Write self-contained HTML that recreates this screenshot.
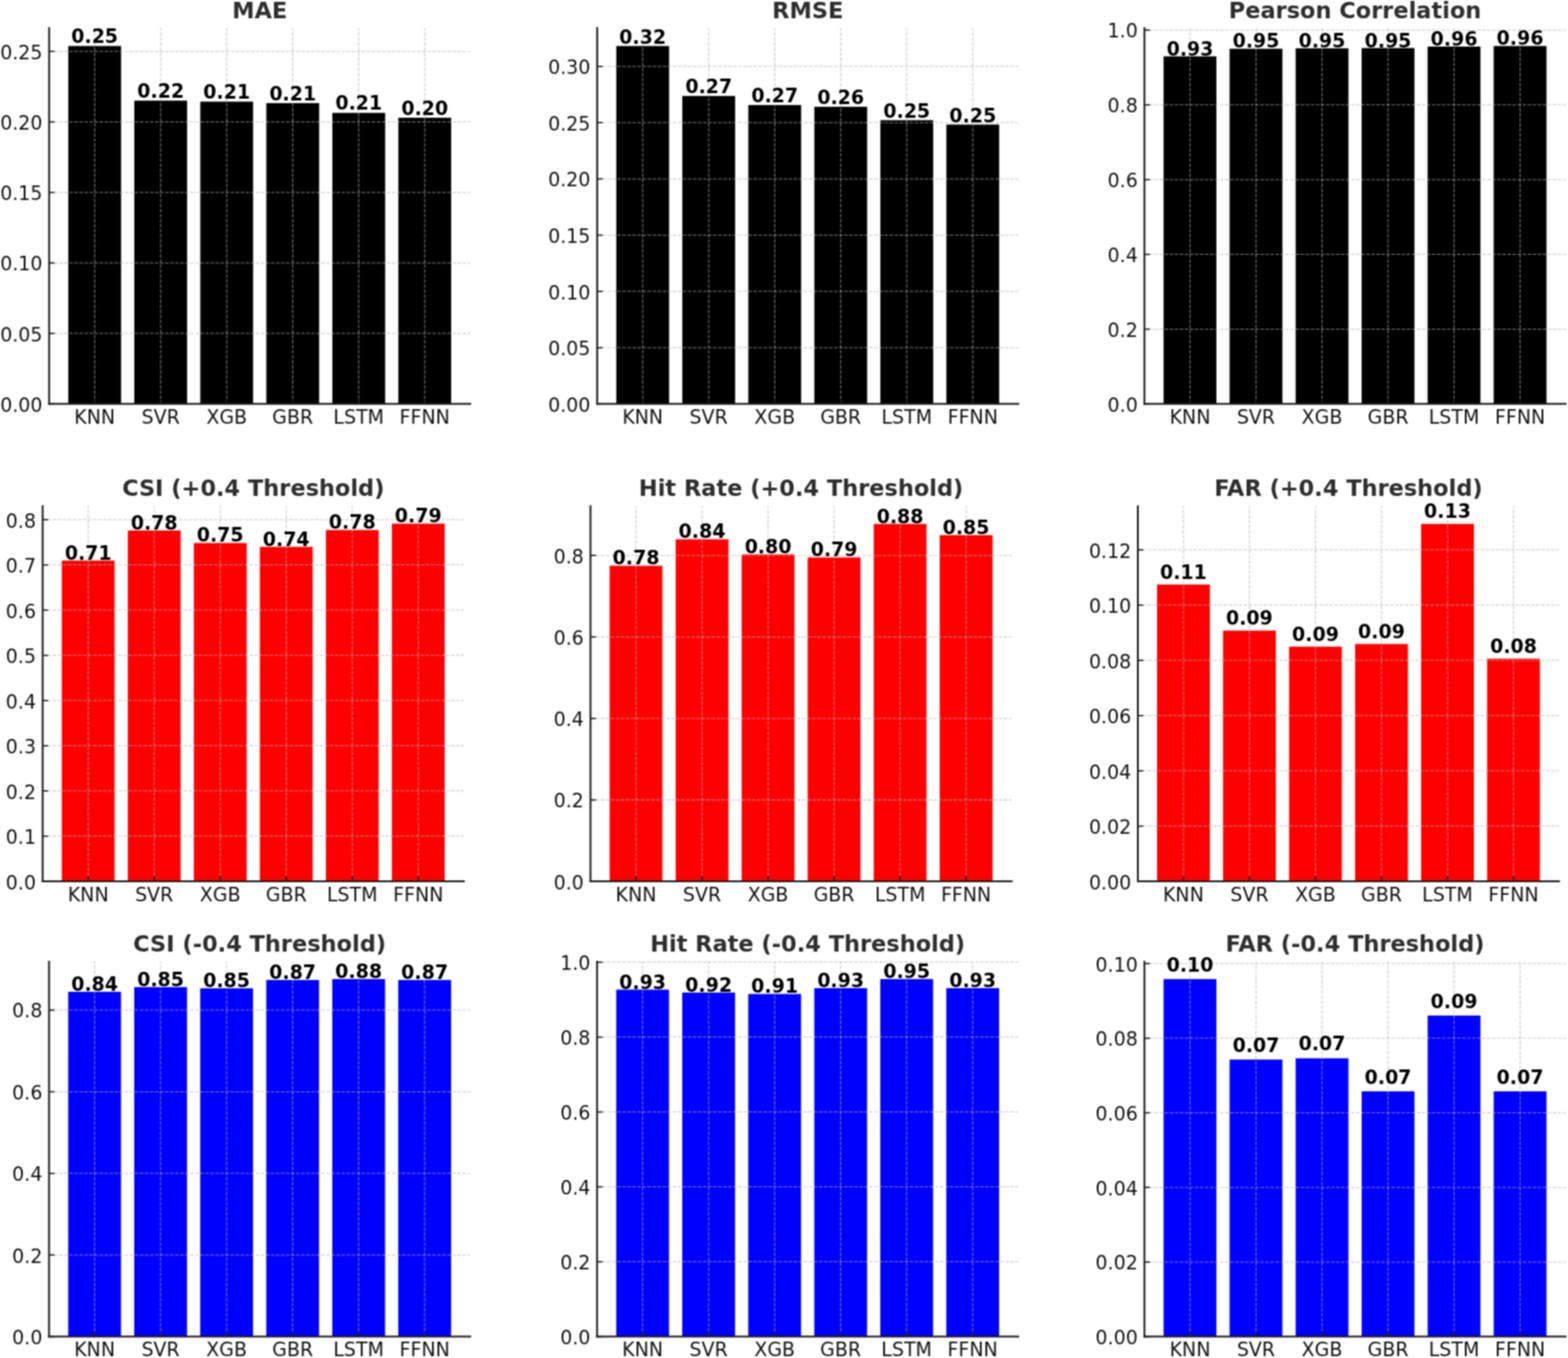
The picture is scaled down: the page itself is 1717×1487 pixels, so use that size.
<!DOCTYPE html>
<html><head><meta charset="utf-8"><title>Model metrics</title><style>
html,body{margin:0;padding:0;background:#fff;}
svg{display:block;}
text{font-family:"DejaVu Sans","Liberation Sans",sans-serif;}
.gr{stroke:#b0b0b0;stroke-width:1.04;stroke-dasharray:3.85 1.67;stroke-opacity:0.7;fill:none;}
.tk{stroke:#1c1c1c;stroke-width:1.5;}
.sp{stroke:#1c1c1c;stroke-width:2.0;stroke-linecap:square;}
.yl{font-size:20.8px;fill:#111111;text-anchor:end;}
.xl{font-size:20.8px;fill:#111111;text-anchor:middle;}
.vl{font-size:20.8px;font-weight:bold;fill:#000;text-anchor:middle;}
.ti{font-size:24.6px;font-weight:bold;fill:#2e2e2e;text-anchor:middle;}
</style></head>
<body><svg width="1717" height="1487" viewBox="0 0 1717 1487">
<defs><filter id="bl" x="0" y="0" width="1717" height="1487" filterUnits="userSpaceOnUse" color-interpolation-filters="sRGB"><feConvolveMatrix order="3" kernelMatrix="1 2 1 2 4 2 1 2 1" divisor="16" edgeMode="duplicate" preserveAlpha="true"/></filter></defs>
<g filter="url(#bl)">
<rect width="1717" height="1487" fill="#fff"/>
<rect x="74.76" y="50.4" width="57.83" height="391.9" fill="#000000"/>
<rect x="147.05" y="110.2" width="57.83" height="332.1" fill="#000000"/>
<rect x="219.34" y="111.3" width="57.83" height="331" fill="#000000"/>
<rect x="291.63" y="112.9" width="57.83" height="329.4" fill="#000000"/>
<rect x="363.92" y="123.6" width="57.83" height="318.7" fill="#000000"/>
<rect x="436.21" y="128.9" width="57.83" height="313.4" fill="#000000"/>
<line x1="53.8" y1="365.1" x2="515" y2="365.1" class="gr"/>
<line x1="53.8" y1="287.9" x2="515" y2="287.9" class="gr"/>
<line x1="53.8" y1="210.7" x2="515" y2="210.7" class="gr"/>
<line x1="53.8" y1="133.5" x2="515" y2="133.5" class="gr"/>
<line x1="53.8" y1="56.3" x2="515" y2="56.3" class="gr"/>
<line x1="103.68" y1="442.3" x2="103.68" y2="30.7" class="gr"/>
<line x1="175.97" y1="442.3" x2="175.97" y2="30.7" class="gr"/>
<line x1="248.26" y1="442.3" x2="248.26" y2="30.7" class="gr"/>
<line x1="320.54" y1="442.3" x2="320.54" y2="30.7" class="gr"/>
<line x1="392.83" y1="442.3" x2="392.83" y2="30.7" class="gr"/>
<line x1="465.12" y1="442.3" x2="465.12" y2="30.7" class="gr"/>
<line x1="53.8" y1="442.3" x2="59.8" y2="442.3" class="tk"/>
<line x1="53.8" y1="365.1" x2="59.8" y2="365.1" class="tk"/>
<line x1="53.8" y1="287.9" x2="59.8" y2="287.9" class="tk"/>
<line x1="53.8" y1="210.7" x2="59.8" y2="210.7" class="tk"/>
<line x1="53.8" y1="133.5" x2="59.8" y2="133.5" class="tk"/>
<line x1="53.8" y1="56.3" x2="59.8" y2="56.3" class="tk"/>
<line x1="103.68" y1="442.3" x2="103.68" y2="436.3" class="tk"/>
<line x1="175.97" y1="442.3" x2="175.97" y2="436.3" class="tk"/>
<line x1="248.26" y1="442.3" x2="248.26" y2="436.3" class="tk"/>
<line x1="320.54" y1="442.3" x2="320.54" y2="436.3" class="tk"/>
<line x1="392.83" y1="442.3" x2="392.83" y2="436.3" class="tk"/>
<line x1="465.12" y1="442.3" x2="465.12" y2="436.3" class="tk"/>
<line x1="53.8" y1="30.7" x2="53.8" y2="442.3" class="sp"/>
<line x1="53.8" y1="442.3" x2="515" y2="442.3" class="sp"/>
<text x="46.5" y="450.7" class="yl">0.00</text>
<text x="46.5" y="373.5" class="yl">0.05</text>
<text x="46.5" y="296.3" class="yl">0.10</text>
<text x="46.5" y="219.1" class="yl">0.15</text>
<text x="46.5" y="141.9" class="yl">0.20</text>
<text x="46.5" y="64.7" class="yl">0.25</text>
<text x="103.68" y="463.8" class="xl">KNN</text>
<text x="175.97" y="463.8" class="xl">SVR</text>
<text x="248.26" y="463.8" class="xl">XGB</text>
<text x="320.54" y="463.8" class="xl">GBR</text>
<text x="392.83" y="463.8" class="xl">LSTM</text>
<text x="465.12" y="463.8" class="xl">FFNN</text>
<text x="103.68" y="47.11" class="vl">0.25</text>
<text x="175.97" y="106.91" class="vl">0.22</text>
<text x="248.26" y="108.01" class="vl">0.21</text>
<text x="320.54" y="109.61" class="vl">0.21</text>
<text x="392.83" y="120.31" class="vl">0.21</text>
<text x="465.12" y="125.61" class="vl">0.20</text>
<text x="284.4" y="19.5" class="ti">MAE</text>
<rect x="674.86" y="50.4" width="57.83" height="391.9" fill="#000000"/>
<rect x="747.15" y="105.1" width="57.83" height="337.2" fill="#000000"/>
<rect x="819.44" y="115" width="57.83" height="327.3" fill="#000000"/>
<rect x="891.73" y="116.9" width="57.83" height="325.4" fill="#000000"/>
<rect x="964.02" y="131.6" width="57.83" height="310.7" fill="#000000"/>
<rect x="1036.31" y="136.4" width="57.83" height="305.9" fill="#000000"/>
<line x1="653.9" y1="380.7" x2="1115.1" y2="380.7" class="gr"/>
<line x1="653.9" y1="319.1" x2="1115.1" y2="319.1" class="gr"/>
<line x1="653.9" y1="257.5" x2="1115.1" y2="257.5" class="gr"/>
<line x1="653.9" y1="195.9" x2="1115.1" y2="195.9" class="gr"/>
<line x1="653.9" y1="134.3" x2="1115.1" y2="134.3" class="gr"/>
<line x1="653.9" y1="72.7" x2="1115.1" y2="72.7" class="gr"/>
<line x1="703.78" y1="442.3" x2="703.78" y2="30.7" class="gr"/>
<line x1="776.07" y1="442.3" x2="776.07" y2="30.7" class="gr"/>
<line x1="848.36" y1="442.3" x2="848.36" y2="30.7" class="gr"/>
<line x1="920.64" y1="442.3" x2="920.64" y2="30.7" class="gr"/>
<line x1="992.93" y1="442.3" x2="992.93" y2="30.7" class="gr"/>
<line x1="1065.22" y1="442.3" x2="1065.22" y2="30.7" class="gr"/>
<line x1="653.9" y1="442.3" x2="659.9" y2="442.3" class="tk"/>
<line x1="653.9" y1="380.7" x2="659.9" y2="380.7" class="tk"/>
<line x1="653.9" y1="319.1" x2="659.9" y2="319.1" class="tk"/>
<line x1="653.9" y1="257.5" x2="659.9" y2="257.5" class="tk"/>
<line x1="653.9" y1="195.9" x2="659.9" y2="195.9" class="tk"/>
<line x1="653.9" y1="134.3" x2="659.9" y2="134.3" class="tk"/>
<line x1="653.9" y1="72.7" x2="659.9" y2="72.7" class="tk"/>
<line x1="703.78" y1="442.3" x2="703.78" y2="436.3" class="tk"/>
<line x1="776.07" y1="442.3" x2="776.07" y2="436.3" class="tk"/>
<line x1="848.36" y1="442.3" x2="848.36" y2="436.3" class="tk"/>
<line x1="920.64" y1="442.3" x2="920.64" y2="436.3" class="tk"/>
<line x1="992.93" y1="442.3" x2="992.93" y2="436.3" class="tk"/>
<line x1="1065.22" y1="442.3" x2="1065.22" y2="436.3" class="tk"/>
<line x1="653.9" y1="30.7" x2="653.9" y2="442.3" class="sp"/>
<line x1="653.9" y1="442.3" x2="1115.1" y2="442.3" class="sp"/>
<text x="646.6" y="450.7" class="yl">0.00</text>
<text x="646.6" y="389.1" class="yl">0.05</text>
<text x="646.6" y="327.5" class="yl">0.10</text>
<text x="646.6" y="265.9" class="yl">0.15</text>
<text x="646.6" y="204.3" class="yl">0.20</text>
<text x="646.6" y="142.7" class="yl">0.25</text>
<text x="646.6" y="81.1" class="yl">0.30</text>
<text x="703.78" y="463.8" class="xl">KNN</text>
<text x="776.07" y="463.8" class="xl">SVR</text>
<text x="848.36" y="463.8" class="xl">XGB</text>
<text x="920.64" y="463.8" class="xl">GBR</text>
<text x="992.93" y="463.8" class="xl">LSTM</text>
<text x="1065.22" y="463.8" class="xl">FFNN</text>
<text x="703.78" y="47.74" class="vl">0.32</text>
<text x="776.07" y="102.44" class="vl">0.27</text>
<text x="848.36" y="112.34" class="vl">0.27</text>
<text x="920.64" y="114.24" class="vl">0.26</text>
<text x="992.93" y="128.94" class="vl">0.25</text>
<text x="1065.22" y="133.74" class="vl">0.25</text>
<text x="884.5" y="19.5" class="ti">RMSE</text>
<rect x="1274.16" y="61.7" width="57.83" height="380.6" fill="#000000"/>
<rect x="1346.45" y="53.4" width="57.83" height="388.9" fill="#000000"/>
<rect x="1418.74" y="52.9" width="57.83" height="389.4" fill="#000000"/>
<rect x="1491.03" y="52.6" width="57.83" height="389.7" fill="#000000"/>
<rect x="1563.32" y="51" width="57.83" height="391.3" fill="#000000"/>
<rect x="1635.61" y="50.4" width="57.83" height="391.9" fill="#000000"/>
<line x1="1253.2" y1="360.42" x2="1714.4" y2="360.42" class="gr"/>
<line x1="1253.2" y1="278.54" x2="1714.4" y2="278.54" class="gr"/>
<line x1="1253.2" y1="196.66" x2="1714.4" y2="196.66" class="gr"/>
<line x1="1253.2" y1="114.78" x2="1714.4" y2="114.78" class="gr"/>
<line x1="1253.2" y1="32.9" x2="1714.4" y2="32.9" class="gr"/>
<line x1="1303.08" y1="442.3" x2="1303.08" y2="30.7" class="gr"/>
<line x1="1375.37" y1="442.3" x2="1375.37" y2="30.7" class="gr"/>
<line x1="1447.66" y1="442.3" x2="1447.66" y2="30.7" class="gr"/>
<line x1="1519.94" y1="442.3" x2="1519.94" y2="30.7" class="gr"/>
<line x1="1592.23" y1="442.3" x2="1592.23" y2="30.7" class="gr"/>
<line x1="1664.52" y1="442.3" x2="1664.52" y2="30.7" class="gr"/>
<line x1="1253.2" y1="442.3" x2="1259.2" y2="442.3" class="tk"/>
<line x1="1253.2" y1="360.42" x2="1259.2" y2="360.42" class="tk"/>
<line x1="1253.2" y1="278.54" x2="1259.2" y2="278.54" class="tk"/>
<line x1="1253.2" y1="196.66" x2="1259.2" y2="196.66" class="tk"/>
<line x1="1253.2" y1="114.78" x2="1259.2" y2="114.78" class="tk"/>
<line x1="1253.2" y1="32.9" x2="1259.2" y2="32.9" class="tk"/>
<line x1="1303.08" y1="442.3" x2="1303.08" y2="436.3" class="tk"/>
<line x1="1375.37" y1="442.3" x2="1375.37" y2="436.3" class="tk"/>
<line x1="1447.66" y1="442.3" x2="1447.66" y2="436.3" class="tk"/>
<line x1="1519.94" y1="442.3" x2="1519.94" y2="436.3" class="tk"/>
<line x1="1592.23" y1="442.3" x2="1592.23" y2="436.3" class="tk"/>
<line x1="1664.52" y1="442.3" x2="1664.52" y2="436.3" class="tk"/>
<line x1="1253.2" y1="30.7" x2="1253.2" y2="442.3" class="sp"/>
<line x1="1253.2" y1="442.3" x2="1714.4" y2="442.3" class="sp"/>
<text x="1245.9" y="450.7" class="yl">0.0</text>
<text x="1245.9" y="368.82" class="yl">0.2</text>
<text x="1245.9" y="286.94" class="yl">0.4</text>
<text x="1245.9" y="205.06" class="yl">0.6</text>
<text x="1245.9" y="123.18" class="yl">0.8</text>
<text x="1245.9" y="41.3" class="yl">1.0</text>
<text x="1303.08" y="463.8" class="xl">KNN</text>
<text x="1375.37" y="463.8" class="xl">SVR</text>
<text x="1447.66" y="463.8" class="xl">XGB</text>
<text x="1519.94" y="463.8" class="xl">GBR</text>
<text x="1592.23" y="463.8" class="xl">LSTM</text>
<text x="1664.52" y="463.8" class="xl">FFNN</text>
<text x="1303.08" y="60.68" class="vl">0.93</text>
<text x="1375.37" y="52.38" class="vl">0.95</text>
<text x="1447.66" y="51.88" class="vl">0.95</text>
<text x="1519.94" y="51.58" class="vl">0.95</text>
<text x="1592.23" y="49.98" class="vl">0.96</text>
<text x="1664.52" y="49.38" class="vl">0.96</text>
<text x="1483.8" y="19.5" class="ti">Pearson Correlation</text>
<rect x="67.66" y="613.8" width="57.83" height="351.3" fill="#ff0000"/>
<rect x="139.95" y="580.9" width="57.83" height="384.2" fill="#ff0000"/>
<rect x="212.24" y="594.6" width="57.83" height="370.5" fill="#ff0000"/>
<rect x="284.53" y="598.8" width="57.83" height="366.3" fill="#ff0000"/>
<rect x="356.82" y="580.4" width="57.83" height="384.7" fill="#ff0000"/>
<rect x="429.11" y="573.4" width="57.83" height="391.7" fill="#ff0000"/>
<line x1="46.7" y1="915.6" x2="507.9" y2="915.6" class="gr"/>
<line x1="46.7" y1="866.1" x2="507.9" y2="866.1" class="gr"/>
<line x1="46.7" y1="816.6" x2="507.9" y2="816.6" class="gr"/>
<line x1="46.7" y1="767.1" x2="507.9" y2="767.1" class="gr"/>
<line x1="46.7" y1="717.6" x2="507.9" y2="717.6" class="gr"/>
<line x1="46.7" y1="668.1" x2="507.9" y2="668.1" class="gr"/>
<line x1="46.7" y1="618.6" x2="507.9" y2="618.6" class="gr"/>
<line x1="46.7" y1="569.1" x2="507.9" y2="569.1" class="gr"/>
<line x1="96.58" y1="965.1" x2="96.58" y2="554.3" class="gr"/>
<line x1="168.87" y1="965.1" x2="168.87" y2="554.3" class="gr"/>
<line x1="241.16" y1="965.1" x2="241.16" y2="554.3" class="gr"/>
<line x1="313.44" y1="965.1" x2="313.44" y2="554.3" class="gr"/>
<line x1="385.73" y1="965.1" x2="385.73" y2="554.3" class="gr"/>
<line x1="458.02" y1="965.1" x2="458.02" y2="554.3" class="gr"/>
<line x1="46.7" y1="965.1" x2="52.7" y2="965.1" class="tk"/>
<line x1="46.7" y1="915.6" x2="52.7" y2="915.6" class="tk"/>
<line x1="46.7" y1="866.1" x2="52.7" y2="866.1" class="tk"/>
<line x1="46.7" y1="816.6" x2="52.7" y2="816.6" class="tk"/>
<line x1="46.7" y1="767.1" x2="52.7" y2="767.1" class="tk"/>
<line x1="46.7" y1="717.6" x2="52.7" y2="717.6" class="tk"/>
<line x1="46.7" y1="668.1" x2="52.7" y2="668.1" class="tk"/>
<line x1="46.7" y1="618.6" x2="52.7" y2="618.6" class="tk"/>
<line x1="46.7" y1="569.1" x2="52.7" y2="569.1" class="tk"/>
<line x1="96.58" y1="965.1" x2="96.58" y2="959.1" class="tk"/>
<line x1="168.87" y1="965.1" x2="168.87" y2="959.1" class="tk"/>
<line x1="241.16" y1="965.1" x2="241.16" y2="959.1" class="tk"/>
<line x1="313.44" y1="965.1" x2="313.44" y2="959.1" class="tk"/>
<line x1="385.73" y1="965.1" x2="385.73" y2="959.1" class="tk"/>
<line x1="458.02" y1="965.1" x2="458.02" y2="959.1" class="tk"/>
<line x1="46.7" y1="554.3" x2="46.7" y2="965.1" class="sp"/>
<line x1="46.7" y1="965.1" x2="507.9" y2="965.1" class="sp"/>
<text x="39.4" y="973.5" class="yl">0.0</text>
<text x="39.4" y="924" class="yl">0.1</text>
<text x="39.4" y="874.5" class="yl">0.2</text>
<text x="39.4" y="825" class="yl">0.3</text>
<text x="39.4" y="775.5" class="yl">0.4</text>
<text x="39.4" y="726" class="yl">0.5</text>
<text x="39.4" y="676.5" class="yl">0.6</text>
<text x="39.4" y="627" class="yl">0.7</text>
<text x="39.4" y="577.5" class="yl">0.8</text>
<text x="96.58" y="986.6" class="xl">KNN</text>
<text x="168.87" y="986.6" class="xl">SVR</text>
<text x="241.16" y="986.6" class="xl">XGB</text>
<text x="313.44" y="986.6" class="xl">GBR</text>
<text x="385.73" y="986.6" class="xl">LSTM</text>
<text x="458.02" y="986.6" class="xl">FFNN</text>
<text x="96.58" y="612.61" class="vl">0.71</text>
<text x="168.87" y="579.71" class="vl">0.78</text>
<text x="241.16" y="593.41" class="vl">0.75</text>
<text x="313.44" y="597.61" class="vl">0.74</text>
<text x="385.73" y="579.21" class="vl">0.78</text>
<text x="458.02" y="572.21" class="vl">0.79</text>
<text x="277.3" y="543.1" class="ti">CSI (+0.4 Threshold)</text>
<rect x="667.56" y="619.5" width="57.83" height="345.6" fill="#ff0000"/>
<rect x="739.85" y="590.5" width="57.83" height="374.6" fill="#ff0000"/>
<rect x="812.14" y="607.1" width="57.83" height="358" fill="#ff0000"/>
<rect x="884.43" y="610.4" width="57.83" height="354.7" fill="#ff0000"/>
<rect x="956.72" y="573.7" width="57.83" height="391.4" fill="#ff0000"/>
<rect x="1029.01" y="586" width="57.83" height="379.1" fill="#ff0000"/>
<line x1="646.6" y1="875.88" x2="1107.8" y2="875.88" class="gr"/>
<line x1="646.6" y1="786.66" x2="1107.8" y2="786.66" class="gr"/>
<line x1="646.6" y1="697.44" x2="1107.8" y2="697.44" class="gr"/>
<line x1="646.6" y1="608.22" x2="1107.8" y2="608.22" class="gr"/>
<line x1="696.48" y1="965.1" x2="696.48" y2="554.3" class="gr"/>
<line x1="768.77" y1="965.1" x2="768.77" y2="554.3" class="gr"/>
<line x1="841.06" y1="965.1" x2="841.06" y2="554.3" class="gr"/>
<line x1="913.34" y1="965.1" x2="913.34" y2="554.3" class="gr"/>
<line x1="985.63" y1="965.1" x2="985.63" y2="554.3" class="gr"/>
<line x1="1057.92" y1="965.1" x2="1057.92" y2="554.3" class="gr"/>
<line x1="646.6" y1="965.1" x2="652.6" y2="965.1" class="tk"/>
<line x1="646.6" y1="875.88" x2="652.6" y2="875.88" class="tk"/>
<line x1="646.6" y1="786.66" x2="652.6" y2="786.66" class="tk"/>
<line x1="646.6" y1="697.44" x2="652.6" y2="697.44" class="tk"/>
<line x1="646.6" y1="608.22" x2="652.6" y2="608.22" class="tk"/>
<line x1="696.48" y1="965.1" x2="696.48" y2="959.1" class="tk"/>
<line x1="768.77" y1="965.1" x2="768.77" y2="959.1" class="tk"/>
<line x1="841.06" y1="965.1" x2="841.06" y2="959.1" class="tk"/>
<line x1="913.34" y1="965.1" x2="913.34" y2="959.1" class="tk"/>
<line x1="985.63" y1="965.1" x2="985.63" y2="959.1" class="tk"/>
<line x1="1057.92" y1="965.1" x2="1057.92" y2="959.1" class="tk"/>
<line x1="646.6" y1="554.3" x2="646.6" y2="965.1" class="sp"/>
<line x1="646.6" y1="965.1" x2="1107.8" y2="965.1" class="sp"/>
<text x="639.3" y="973.5" class="yl">0.0</text>
<text x="639.3" y="884.28" class="yl">0.2</text>
<text x="639.3" y="795.06" class="yl">0.4</text>
<text x="639.3" y="705.84" class="yl">0.6</text>
<text x="639.3" y="616.62" class="yl">0.8</text>
<text x="696.48" y="986.6" class="xl">KNN</text>
<text x="768.77" y="986.6" class="xl">SVR</text>
<text x="841.06" y="986.6" class="xl">XGB</text>
<text x="913.34" y="986.6" class="xl">GBR</text>
<text x="985.63" y="986.6" class="xl">LSTM</text>
<text x="1057.92" y="986.6" class="xl">FFNN</text>
<text x="696.48" y="618.41" class="vl">0.78</text>
<text x="768.77" y="589.41" class="vl">0.84</text>
<text x="841.06" y="606.01" class="vl">0.80</text>
<text x="913.34" y="609.31" class="vl">0.79</text>
<text x="985.63" y="572.61" class="vl">0.88</text>
<text x="1057.92" y="584.91" class="vl">0.85</text>
<text x="877.2" y="543.1" class="ti">Hit Rate (+0.4 Threshold)</text>
<rect x="1266.96" y="640.1" width="57.83" height="325" fill="#ff0000"/>
<rect x="1339.25" y="690.5" width="57.83" height="274.6" fill="#ff0000"/>
<rect x="1411.54" y="708.1" width="57.83" height="257" fill="#ff0000"/>
<rect x="1483.83" y="705.2" width="57.83" height="259.9" fill="#ff0000"/>
<rect x="1556.12" y="573.7" width="57.83" height="391.4" fill="#ff0000"/>
<rect x="1628.41" y="721.3" width="57.83" height="243.8" fill="#ff0000"/>
<line x1="1246" y1="904.6" x2="1707.2" y2="904.6" class="gr"/>
<line x1="1246" y1="844.1" x2="1707.2" y2="844.1" class="gr"/>
<line x1="1246" y1="783.6" x2="1707.2" y2="783.6" class="gr"/>
<line x1="1246" y1="723.1" x2="1707.2" y2="723.1" class="gr"/>
<line x1="1246" y1="662.6" x2="1707.2" y2="662.6" class="gr"/>
<line x1="1246" y1="602.1" x2="1707.2" y2="602.1" class="gr"/>
<line x1="1295.88" y1="965.1" x2="1295.88" y2="554.3" class="gr"/>
<line x1="1368.17" y1="965.1" x2="1368.17" y2="554.3" class="gr"/>
<line x1="1440.46" y1="965.1" x2="1440.46" y2="554.3" class="gr"/>
<line x1="1512.74" y1="965.1" x2="1512.74" y2="554.3" class="gr"/>
<line x1="1585.03" y1="965.1" x2="1585.03" y2="554.3" class="gr"/>
<line x1="1657.32" y1="965.1" x2="1657.32" y2="554.3" class="gr"/>
<line x1="1246" y1="965.1" x2="1252" y2="965.1" class="tk"/>
<line x1="1246" y1="904.6" x2="1252" y2="904.6" class="tk"/>
<line x1="1246" y1="844.1" x2="1252" y2="844.1" class="tk"/>
<line x1="1246" y1="783.6" x2="1252" y2="783.6" class="tk"/>
<line x1="1246" y1="723.1" x2="1252" y2="723.1" class="tk"/>
<line x1="1246" y1="662.6" x2="1252" y2="662.6" class="tk"/>
<line x1="1246" y1="602.1" x2="1252" y2="602.1" class="tk"/>
<line x1="1295.88" y1="965.1" x2="1295.88" y2="959.1" class="tk"/>
<line x1="1368.17" y1="965.1" x2="1368.17" y2="959.1" class="tk"/>
<line x1="1440.46" y1="965.1" x2="1440.46" y2="959.1" class="tk"/>
<line x1="1512.74" y1="965.1" x2="1512.74" y2="959.1" class="tk"/>
<line x1="1585.03" y1="965.1" x2="1585.03" y2="959.1" class="tk"/>
<line x1="1657.32" y1="965.1" x2="1657.32" y2="959.1" class="tk"/>
<line x1="1246" y1="554.3" x2="1246" y2="965.1" class="sp"/>
<line x1="1246" y1="965.1" x2="1707.2" y2="965.1" class="sp"/>
<text x="1238.7" y="973.5" class="yl">0.00</text>
<text x="1238.7" y="913" class="yl">0.02</text>
<text x="1238.7" y="852.5" class="yl">0.04</text>
<text x="1238.7" y="792" class="yl">0.06</text>
<text x="1238.7" y="731.5" class="yl">0.08</text>
<text x="1238.7" y="671" class="yl">0.10</text>
<text x="1238.7" y="610.5" class="yl">0.12</text>
<text x="1295.88" y="986.6" class="xl">KNN</text>
<text x="1368.17" y="986.6" class="xl">SVR</text>
<text x="1440.46" y="986.6" class="xl">XGB</text>
<text x="1512.74" y="986.6" class="xl">GBR</text>
<text x="1585.03" y="986.6" class="xl">LSTM</text>
<text x="1657.32" y="986.6" class="xl">FFNN</text>
<text x="1295.88" y="633.85" class="vl">0.11</text>
<text x="1368.17" y="684.25" class="vl">0.09</text>
<text x="1440.46" y="701.85" class="vl">0.09</text>
<text x="1512.74" y="698.95" class="vl">0.09</text>
<text x="1585.03" y="567.45" class="vl">0.13</text>
<text x="1657.32" y="715.05" class="vl">0.08</text>
<text x="1476.6" y="543.1" class="ti">FAR (+0.4 Threshold)</text>
<rect x="74.66" y="1086" width="57.83" height="377.6" fill="#0000ff"/>
<rect x="146.95" y="1080.9" width="57.83" height="382.7" fill="#0000ff"/>
<rect x="219.24" y="1082.2" width="57.83" height="381.4" fill="#0000ff"/>
<rect x="291.53" y="1073.1" width="57.83" height="390.5" fill="#0000ff"/>
<rect x="363.82" y="1072.1" width="57.83" height="391.5" fill="#0000ff"/>
<rect x="436.11" y="1073.1" width="57.83" height="390.5" fill="#0000ff"/>
<line x1="53.7" y1="1374.22" x2="514.9" y2="1374.22" class="gr"/>
<line x1="53.7" y1="1284.84" x2="514.9" y2="1284.84" class="gr"/>
<line x1="53.7" y1="1195.46" x2="514.9" y2="1195.46" class="gr"/>
<line x1="53.7" y1="1106.08" x2="514.9" y2="1106.08" class="gr"/>
<line x1="103.58" y1="1463.6" x2="103.58" y2="1053" class="gr"/>
<line x1="175.87" y1="1463.6" x2="175.87" y2="1053" class="gr"/>
<line x1="248.16" y1="1463.6" x2="248.16" y2="1053" class="gr"/>
<line x1="320.44" y1="1463.6" x2="320.44" y2="1053" class="gr"/>
<line x1="392.73" y1="1463.6" x2="392.73" y2="1053" class="gr"/>
<line x1="465.02" y1="1463.6" x2="465.02" y2="1053" class="gr"/>
<line x1="53.7" y1="1463.6" x2="59.7" y2="1463.6" class="tk"/>
<line x1="53.7" y1="1374.22" x2="59.7" y2="1374.22" class="tk"/>
<line x1="53.7" y1="1284.84" x2="59.7" y2="1284.84" class="tk"/>
<line x1="53.7" y1="1195.46" x2="59.7" y2="1195.46" class="tk"/>
<line x1="53.7" y1="1106.08" x2="59.7" y2="1106.08" class="tk"/>
<line x1="103.58" y1="1463.6" x2="103.58" y2="1457.6" class="tk"/>
<line x1="175.87" y1="1463.6" x2="175.87" y2="1457.6" class="tk"/>
<line x1="248.16" y1="1463.6" x2="248.16" y2="1457.6" class="tk"/>
<line x1="320.44" y1="1463.6" x2="320.44" y2="1457.6" class="tk"/>
<line x1="392.73" y1="1463.6" x2="392.73" y2="1457.6" class="tk"/>
<line x1="465.02" y1="1463.6" x2="465.02" y2="1457.6" class="tk"/>
<line x1="53.7" y1="1053" x2="53.7" y2="1463.6" class="sp"/>
<line x1="53.7" y1="1463.6" x2="514.9" y2="1463.6" class="sp"/>
<text x="46.4" y="1472" class="yl">0.0</text>
<text x="46.4" y="1382.62" class="yl">0.2</text>
<text x="46.4" y="1293.24" class="yl">0.4</text>
<text x="46.4" y="1203.86" class="yl">0.6</text>
<text x="46.4" y="1114.48" class="yl">0.8</text>
<text x="103.58" y="1485.1" class="xl">KNN</text>
<text x="175.87" y="1485.1" class="xl">SVR</text>
<text x="248.16" y="1485.1" class="xl">XGB</text>
<text x="320.44" y="1485.1" class="xl">GBR</text>
<text x="392.73" y="1485.1" class="xl">LSTM</text>
<text x="465.02" y="1485.1" class="xl">FFNN</text>
<text x="103.58" y="1084.91" class="vl">0.84</text>
<text x="175.87" y="1079.81" class="vl">0.85</text>
<text x="248.16" y="1081.11" class="vl">0.85</text>
<text x="320.44" y="1072.01" class="vl">0.87</text>
<text x="392.73" y="1071.01" class="vl">0.88</text>
<text x="465.02" y="1072.01" class="vl">0.87</text>
<text x="284.3" y="1041.8" class="ti">CSI (-0.4 Threshold)</text>
<rect x="674.76" y="1083.6" width="57.83" height="380" fill="#0000ff"/>
<rect x="747.05" y="1086.8" width="57.83" height="376.8" fill="#0000ff"/>
<rect x="819.34" y="1088.4" width="57.83" height="375.2" fill="#0000ff"/>
<rect x="891.63" y="1082" width="57.83" height="381.6" fill="#0000ff"/>
<rect x="963.92" y="1072.1" width="57.83" height="391.5" fill="#0000ff"/>
<rect x="1036.21" y="1082" width="57.83" height="381.6" fill="#0000ff"/>
<line x1="653.8" y1="1381.6" x2="1115" y2="1381.6" class="gr"/>
<line x1="653.8" y1="1299.6" x2="1115" y2="1299.6" class="gr"/>
<line x1="653.8" y1="1217.6" x2="1115" y2="1217.6" class="gr"/>
<line x1="653.8" y1="1135.6" x2="1115" y2="1135.6" class="gr"/>
<line x1="653.8" y1="1053.6" x2="1115" y2="1053.6" class="gr"/>
<line x1="703.68" y1="1463.6" x2="703.68" y2="1053" class="gr"/>
<line x1="775.97" y1="1463.6" x2="775.97" y2="1053" class="gr"/>
<line x1="848.26" y1="1463.6" x2="848.26" y2="1053" class="gr"/>
<line x1="920.54" y1="1463.6" x2="920.54" y2="1053" class="gr"/>
<line x1="992.83" y1="1463.6" x2="992.83" y2="1053" class="gr"/>
<line x1="1065.12" y1="1463.6" x2="1065.12" y2="1053" class="gr"/>
<line x1="653.8" y1="1463.6" x2="659.8" y2="1463.6" class="tk"/>
<line x1="653.8" y1="1381.6" x2="659.8" y2="1381.6" class="tk"/>
<line x1="653.8" y1="1299.6" x2="659.8" y2="1299.6" class="tk"/>
<line x1="653.8" y1="1217.6" x2="659.8" y2="1217.6" class="tk"/>
<line x1="653.8" y1="1135.6" x2="659.8" y2="1135.6" class="tk"/>
<line x1="653.8" y1="1053.6" x2="659.8" y2="1053.6" class="tk"/>
<line x1="703.68" y1="1463.6" x2="703.68" y2="1457.6" class="tk"/>
<line x1="775.97" y1="1463.6" x2="775.97" y2="1457.6" class="tk"/>
<line x1="848.26" y1="1463.6" x2="848.26" y2="1457.6" class="tk"/>
<line x1="920.54" y1="1463.6" x2="920.54" y2="1457.6" class="tk"/>
<line x1="992.83" y1="1463.6" x2="992.83" y2="1457.6" class="tk"/>
<line x1="1065.12" y1="1463.6" x2="1065.12" y2="1457.6" class="tk"/>
<line x1="653.8" y1="1053" x2="653.8" y2="1463.6" class="sp"/>
<line x1="653.8" y1="1463.6" x2="1115" y2="1463.6" class="sp"/>
<text x="646.5" y="1472" class="yl">0.0</text>
<text x="646.5" y="1390" class="yl">0.2</text>
<text x="646.5" y="1308" class="yl">0.4</text>
<text x="646.5" y="1226" class="yl">0.6</text>
<text x="646.5" y="1144" class="yl">0.8</text>
<text x="646.5" y="1062" class="yl">1.0</text>
<text x="703.68" y="1485.1" class="xl">KNN</text>
<text x="775.97" y="1485.1" class="xl">SVR</text>
<text x="848.26" y="1485.1" class="xl">XGB</text>
<text x="920.54" y="1485.1" class="xl">GBR</text>
<text x="992.83" y="1485.1" class="xl">LSTM</text>
<text x="1065.12" y="1485.1" class="xl">FFNN</text>
<text x="703.68" y="1082.58" class="vl">0.93</text>
<text x="775.97" y="1085.78" class="vl">0.92</text>
<text x="848.26" y="1087.38" class="vl">0.91</text>
<text x="920.54" y="1080.98" class="vl">0.93</text>
<text x="992.83" y="1071.08" class="vl">0.95</text>
<text x="1065.12" y="1080.98" class="vl">0.93</text>
<text x="884.4" y="1041.8" class="ti">Hit Rate (-0.4 Threshold)</text>
<rect x="1274.16" y="1072.1" width="57.83" height="391.5" fill="#0000ff"/>
<rect x="1346.45" y="1160.2" width="57.83" height="303.4" fill="#0000ff"/>
<rect x="1418.74" y="1158.8" width="57.83" height="304.8" fill="#0000ff"/>
<rect x="1491.03" y="1195" width="57.83" height="268.6" fill="#0000ff"/>
<rect x="1563.32" y="1112" width="57.83" height="351.6" fill="#0000ff"/>
<rect x="1635.61" y="1195" width="57.83" height="268.6" fill="#0000ff"/>
<line x1="1253.2" y1="1381.9" x2="1714.4" y2="1381.9" class="gr"/>
<line x1="1253.2" y1="1300.2" x2="1714.4" y2="1300.2" class="gr"/>
<line x1="1253.2" y1="1218.5" x2="1714.4" y2="1218.5" class="gr"/>
<line x1="1253.2" y1="1136.8" x2="1714.4" y2="1136.8" class="gr"/>
<line x1="1253.2" y1="1055.1" x2="1714.4" y2="1055.1" class="gr"/>
<line x1="1303.08" y1="1463.6" x2="1303.08" y2="1053" class="gr"/>
<line x1="1375.37" y1="1463.6" x2="1375.37" y2="1053" class="gr"/>
<line x1="1447.66" y1="1463.6" x2="1447.66" y2="1053" class="gr"/>
<line x1="1519.94" y1="1463.6" x2="1519.94" y2="1053" class="gr"/>
<line x1="1592.23" y1="1463.6" x2="1592.23" y2="1053" class="gr"/>
<line x1="1664.52" y1="1463.6" x2="1664.52" y2="1053" class="gr"/>
<line x1="1253.2" y1="1463.6" x2="1259.2" y2="1463.6" class="tk"/>
<line x1="1253.2" y1="1381.9" x2="1259.2" y2="1381.9" class="tk"/>
<line x1="1253.2" y1="1300.2" x2="1259.2" y2="1300.2" class="tk"/>
<line x1="1253.2" y1="1218.5" x2="1259.2" y2="1218.5" class="tk"/>
<line x1="1253.2" y1="1136.8" x2="1259.2" y2="1136.8" class="tk"/>
<line x1="1253.2" y1="1055.1" x2="1259.2" y2="1055.1" class="tk"/>
<line x1="1303.08" y1="1463.6" x2="1303.08" y2="1457.6" class="tk"/>
<line x1="1375.37" y1="1463.6" x2="1375.37" y2="1457.6" class="tk"/>
<line x1="1447.66" y1="1463.6" x2="1447.66" y2="1457.6" class="tk"/>
<line x1="1519.94" y1="1463.6" x2="1519.94" y2="1457.6" class="tk"/>
<line x1="1592.23" y1="1463.6" x2="1592.23" y2="1457.6" class="tk"/>
<line x1="1664.52" y1="1463.6" x2="1664.52" y2="1457.6" class="tk"/>
<line x1="1253.2" y1="1053" x2="1253.2" y2="1463.6" class="sp"/>
<line x1="1253.2" y1="1463.6" x2="1714.4" y2="1463.6" class="sp"/>
<text x="1245.9" y="1472" class="yl">0.00</text>
<text x="1245.9" y="1390.3" class="yl">0.02</text>
<text x="1245.9" y="1308.6" class="yl">0.04</text>
<text x="1245.9" y="1226.9" class="yl">0.06</text>
<text x="1245.9" y="1145.2" class="yl">0.08</text>
<text x="1245.9" y="1063.5" class="yl">0.10</text>
<text x="1303.08" y="1485.1" class="xl">KNN</text>
<text x="1375.37" y="1485.1" class="xl">SVR</text>
<text x="1447.66" y="1485.1" class="xl">XGB</text>
<text x="1519.94" y="1485.1" class="xl">GBR</text>
<text x="1592.23" y="1485.1" class="xl">LSTM</text>
<text x="1664.52" y="1485.1" class="xl">FFNN</text>
<text x="1303.08" y="1063.73" class="vl">0.10</text>
<text x="1375.37" y="1151.83" class="vl">0.07</text>
<text x="1447.66" y="1150.43" class="vl">0.07</text>
<text x="1519.94" y="1186.63" class="vl">0.07</text>
<text x="1592.23" y="1103.63" class="vl">0.09</text>
<text x="1664.52" y="1186.63" class="vl">0.07</text>
<text x="1483.8" y="1041.8" class="ti">FAR (-0.4 Threshold)</text>
</g>
</svg></body></html>
